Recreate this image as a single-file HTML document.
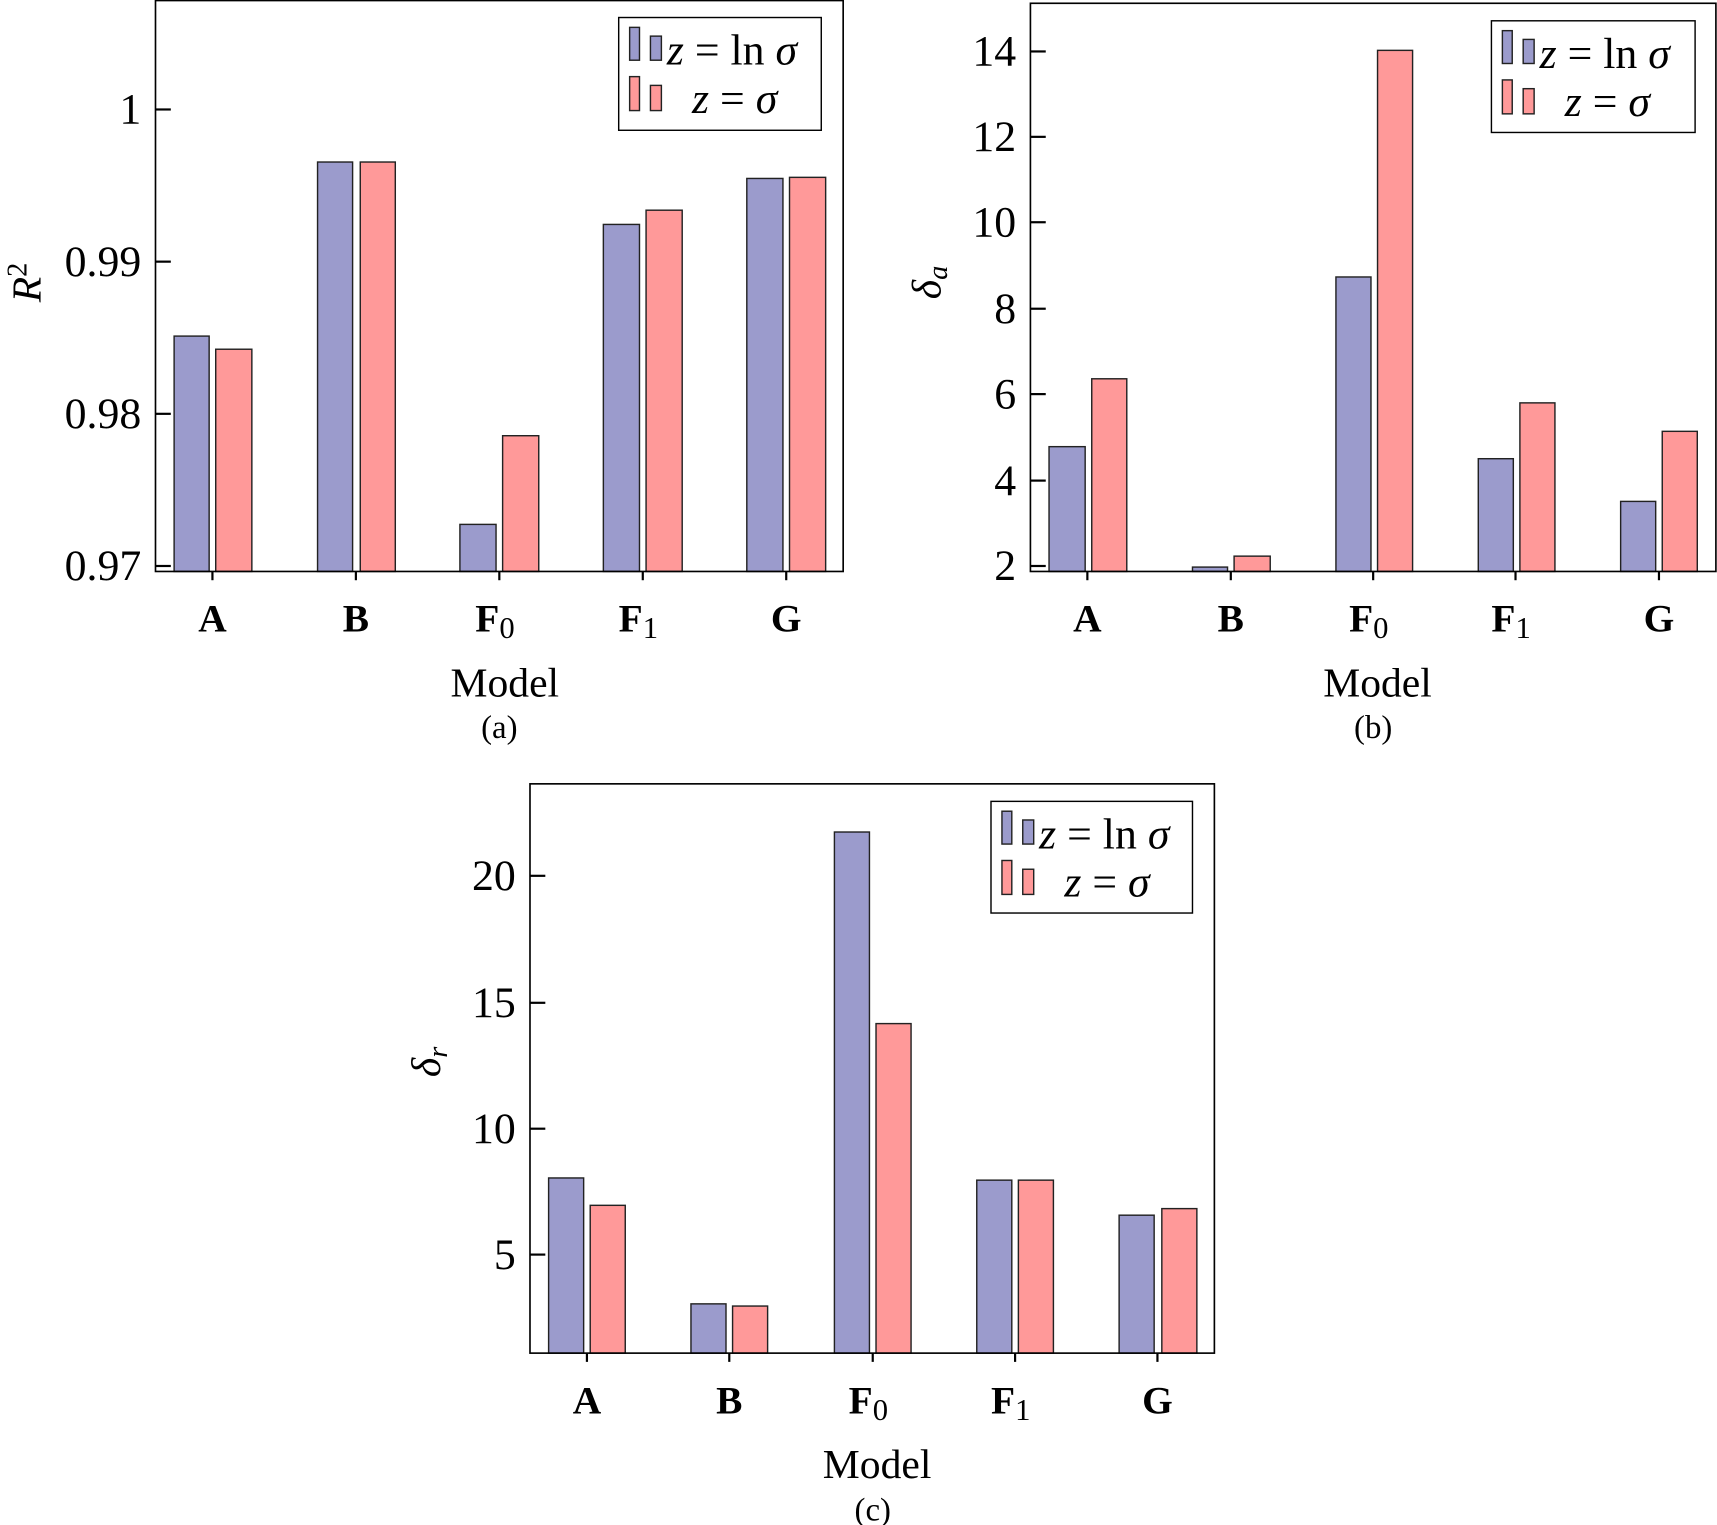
<!DOCTYPE html>
<html><head><meta charset="utf-8"><style>
html,body{margin:0;padding:0;background:#fff;}
svg{display:block;}
text{font-family:"Liberation Serif","DejaVu Serif",serif;fill:#000;}
.t{font-size:40px;}
.x{font-size:36px;font-weight:bold;}
.lab{font-size:38px;}
.cap{font-size:30px;}
.b{fill:#9b9bcc;stroke:#222;stroke-width:1.3;}
.r{fill:#ff9999;stroke:#222;stroke-width:1.3;}
.ax{fill:none;stroke:#000;stroke-width:1.5;}
.tk{stroke:#000;stroke-width:2;}
.lg{fill:#fff;stroke:#000;stroke-width:1.3;}
.lt{font-size:40px;}
</style></head><body>
<svg width="1717" height="1525" viewBox="0 0 1568 1393" preserveAspectRatio="none" xmlns="http://www.w3.org/2000/svg">
<!-- Panel a -->
<g>
<rect class="b" x="159" y="307" width="32" height="215"/>
<rect class="r" x="197" y="319" width="33" height="203"/>
<rect class="b" x="290" y="148" width="32" height="374"/>
<rect class="r" x="329" y="148" width="32" height="374"/>
<rect class="b" x="420" y="479" width="33" height="43"/>
<rect class="r" x="459" y="398" width="33" height="124"/>
<rect class="b" x="551" y="205" width="33" height="317"/>
<rect class="r" x="590" y="192" width="33" height="330"/>
<rect class="b" x="682" y="163" width="33" height="359"/>
<rect class="r" x="721" y="162" width="33" height="360"/>
<rect class="ax" x="142" y="0.5" width="628" height="521.5"/>
<line class="tk" x1="142" y1="100" x2="156" y2="100"/>
<line class="tk" x1="142" y1="239" x2="156" y2="239"/>
<line class="tk" x1="142" y1="378" x2="156" y2="378"/>
<line class="tk" x1="142" y1="517" x2="156" y2="517"/>
<text class="t" x="129" y="113" text-anchor="end">1</text>
<text class="t" x="129" y="252" text-anchor="end">0.99</text>
<text class="t" x="129" y="391" text-anchor="end">0.98</text>
<text class="t" x="129" y="530" text-anchor="end">0.97</text>
<line class="tk" x1="194" y1="522" x2="194" y2="530"/>
<line class="tk" x1="325" y1="522" x2="325" y2="530"/>
<line class="tk" x1="456" y1="522" x2="456" y2="530"/>
<line class="tk" x1="587" y1="522" x2="587" y2="530"/>
<line class="tk" x1="718" y1="522" x2="718" y2="530"/>
<text class="x" x="194" y="577" text-anchor="middle">A</text>
<text class="x" x="325" y="577" text-anchor="middle">B</text>
<text class="x" x="452" y="577" text-anchor="middle">F<tspan font-weight="normal" font-size="28" dy="6">0</tspan></text>
<text class="x" x="583" y="577" text-anchor="middle">F<tspan font-weight="normal" font-size="28" dy="6">1</tspan></text>
<text class="x" x="718" y="577" text-anchor="middle">G</text>
<text class="lab" x="461" y="636" text-anchor="middle">Model</text>
<text class="cap" x="456" y="674" text-anchor="middle">(a)</text>
<text class="lab" transform="translate(37,258) rotate(-90)" text-anchor="middle"><tspan font-style="italic">R</tspan><tspan font-size="26" dy="-13">2</tspan></text>
<rect class="lg" x="565" y="16" width="185" height="103"/>
<rect class="b" x="575" y="25" width="9" height="30"/><rect class="b" x="594" y="33" width="10" height="22"/>
<rect class="r" x="575" y="70" width="9" height="31"/><rect class="r" x="594" y="78" width="10" height="23"/>
<text class="lt" x="609" y="59"><tspan font-style="italic">z</tspan> = ln <tspan font-style="italic">σ</tspan></text>
<text class="lt" x="632" y="103"><tspan font-style="italic">z</tspan> = <tspan font-style="italic">σ</tspan></text>
</g>
<!-- Panel b -->
<g>
<rect class="b" x="958" y="408" width="33" height="114"/>
<rect class="r" x="997" y="346" width="32" height="176"/>
<rect class="b" x="1089" y="518" width="32" height="4"/>
<rect class="r" x="1127" y="508" width="33" height="14"/>
<rect class="b" x="1220" y="253" width="32" height="269"/>
<rect class="r" x="1258" y="46" width="32" height="476"/>
<rect class="b" x="1350" y="419" width="32" height="103"/>
<rect class="r" x="1388" y="368" width="32" height="154"/>
<rect class="b" x="1480" y="458" width="32" height="64"/>
<rect class="r" x="1518" y="394" width="32" height="128"/>
<rect class="ax" x="941" y="3" width="626" height="519"/>
<line class="tk" x1="941" y1="47" x2="955" y2="47"/>
<line class="tk" x1="941" y1="125" x2="955" y2="125"/>
<line class="tk" x1="941" y1="203" x2="955" y2="203"/>
<line class="tk" x1="941" y1="282" x2="955" y2="282"/>
<line class="tk" x1="941" y1="360" x2="955" y2="360"/>
<line class="tk" x1="941" y1="439" x2="955" y2="439"/>
<line class="tk" x1="941" y1="517" x2="955" y2="517"/>
<text class="t" x="928" y="60" text-anchor="end">14</text>
<text class="t" x="928" y="138" text-anchor="end">12</text>
<text class="t" x="928" y="216" text-anchor="end">10</text>
<text class="t" x="928" y="295" text-anchor="end">8</text>
<text class="t" x="928" y="373" text-anchor="end">6</text>
<text class="t" x="928" y="452" text-anchor="end">4</text>
<text class="t" x="928" y="530" text-anchor="end">2</text>
<line class="tk" x1="993" y1="522" x2="993" y2="530"/>
<line class="tk" x1="1124" y1="522" x2="1124" y2="530"/>
<line class="tk" x1="1254" y1="522" x2="1254" y2="530"/>
<line class="tk" x1="1384" y1="522" x2="1384" y2="530"/>
<line class="tk" x1="1515" y1="522" x2="1515" y2="530"/>
<text class="x" x="993" y="577" text-anchor="middle">A</text>
<text class="x" x="1124" y="577" text-anchor="middle">B</text>
<text class="x" x="1250" y="577" text-anchor="middle">F<tspan font-weight="normal" font-size="28" dy="6">0</tspan></text>
<text class="x" x="1380" y="577" text-anchor="middle">F<tspan font-weight="normal" font-size="28" dy="6">1</tspan></text>
<text class="x" x="1515" y="577" text-anchor="middle">G</text>
<text class="lab" x="1258" y="636" text-anchor="middle">Model</text>
<text class="cap" x="1254" y="674" text-anchor="middle">(b)</text>
<text class="lab" transform="translate(859,258) rotate(-90)" text-anchor="middle"><tspan font-style="italic">δ</tspan><tspan font-style="italic" font-size="26" dy="6">a</tspan></text>
<rect class="lg" x="1362" y="19" width="186" height="102"/>
<rect class="b" x="1372" y="28" width="9" height="30"/><rect class="b" x="1391" y="36" width="10" height="22"/>
<rect class="r" x="1372" y="73" width="9" height="31"/><rect class="r" x="1391" y="81" width="10" height="23"/>
<text class="lt" x="1406" y="62"><tspan font-style="italic">z</tspan> = ln <tspan font-style="italic">σ</tspan></text>
<text class="lt" x="1429" y="106"><tspan font-style="italic">z</tspan> = <tspan font-style="italic">σ</tspan></text>
</g>
<!-- Panel c -->
<g>
<rect class="b" x="501" y="1076" width="32" height="160"/>
<rect class="r" x="539" y="1101" width="32" height="135"/>
<rect class="b" x="631" y="1191" width="32" height="45"/>
<rect class="r" x="669" y="1193" width="32" height="43"/>
<rect class="b" x="762" y="760" width="32" height="476"/>
<rect class="r" x="800" y="935" width="32" height="301"/>
<rect class="b" x="892" y="1078" width="32" height="158"/>
<rect class="r" x="930" y="1078" width="32" height="158"/>
<rect class="b" x="1022" y="1110" width="32" height="126"/>
<rect class="r" x="1061" y="1104" width="32" height="132"/>
<rect class="ax" x="484" y="716" width="625" height="520"/>
<line class="tk" x1="484" y1="800" x2="498" y2="800"/>
<line class="tk" x1="484" y1="916" x2="498" y2="916"/>
<line class="tk" x1="484" y1="1031" x2="498" y2="1031"/>
<line class="tk" x1="484" y1="1146" x2="498" y2="1146"/>
<text class="t" x="471" y="813" text-anchor="end">20</text>
<text class="t" x="471" y="929" text-anchor="end">15</text>
<text class="t" x="471" y="1044" text-anchor="end">10</text>
<text class="t" x="471" y="1159" text-anchor="end">5</text>
<line class="tk" x1="536" y1="1236" x2="536" y2="1244"/>
<line class="tk" x1="666" y1="1236" x2="666" y2="1244"/>
<line class="tk" x1="797" y1="1236" x2="797" y2="1244"/>
<line class="tk" x1="927" y1="1236" x2="927" y2="1244"/>
<line class="tk" x1="1057" y1="1236" x2="1057" y2="1244"/>
<text class="x" x="536" y="1291" text-anchor="middle">A</text>
<text class="x" x="666" y="1291" text-anchor="middle">B</text>
<text class="x" x="793" y="1291" text-anchor="middle">F<tspan font-weight="normal" font-size="28" dy="6">0</tspan></text>
<text class="x" x="923" y="1291" text-anchor="middle">F<tspan font-weight="normal" font-size="28" dy="6">1</tspan></text>
<text class="x" x="1057" y="1291" text-anchor="middle">G</text>
<text class="lab" x="801" y="1350" text-anchor="middle">Model</text>
<text class="cap" x="797" y="1389" text-anchor="middle">(c)</text>
<text class="lab" transform="translate(402,970) rotate(-90)" text-anchor="middle"><tspan font-style="italic">δ</tspan><tspan font-style="italic" font-size="26" dy="6">r</tspan></text>
<rect class="lg" x="905" y="732" width="184" height="102"/>
<rect class="b" x="915" y="741" width="9" height="30"/><rect class="b" x="934" y="749" width="10" height="22"/>
<rect class="r" x="915" y="786" width="9" height="31"/><rect class="r" x="934" y="794" width="10" height="23"/>
<text class="lt" x="949" y="775"><tspan font-style="italic">z</tspan> = ln <tspan font-style="italic">σ</tspan></text>
<text class="lt" x="972" y="819"><tspan font-style="italic">z</tspan> = <tspan font-style="italic">σ</tspan></text>
</g>
</svg>
</body></html>
